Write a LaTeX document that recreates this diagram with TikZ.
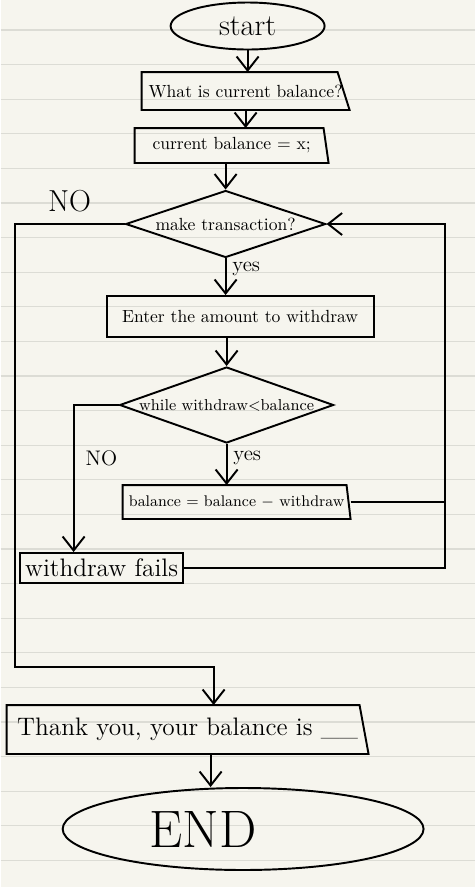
\documentclass[tikz,border=0pt]{standalone}
\usepackage{tikz}
\usetikzlibrary{shapes.geometric}
\usetikzlibrary{arrows.meta}
\definecolor{paper}{HTML}{F6F5EE}
\definecolor{ruling}{HTML}{DCDCD5}

\begin{document}
\begin{tikzpicture}[x=0.02cm, y=-0.02cm, line width=1.1pt,
  flow/.style={-{Straight Barb[length=0.28cm,width=0.44cm]}},
  term/.style={draw, ellipse, inner sep=0pt},
  proc/.style={draw, rectangle, inner sep=0pt},
  io/.style={rectangle, inner sep=0pt},
  test/.style={draw, diamond, inner sep=0pt},
  rule/.style={ruling, line width=0.7pt}]
  %
  % PAPER
  \fill[paper] (0,0) rectangle (474,887);
  \foreach \k in {0,...,24}
    \draw[rule] (0,{30+34.6*\k}) -- (474,{30+34.6*\k});
  %
  % BOXES
  \node[term, minimum width=3.08cm, minimum height=0.94cm, font=\LARGE] (start) at (247,26) {start};
  \node[io, minimum width=4.12cm, minimum height=0.72cm] (ask) at (245,91) {What is current balance?};
  \node[io, minimum width=3.84cm, minimum height=0.66cm] (cur) at (231,145.5) {current balance = x;};
  \node[test, aspect=3, minimum width=4cm, minimum height=1.34cm] (trans) at (225,224) {make transaction?};
  \node[proc, minimum width=5.34cm, minimum height=0.82cm] (amount) at (239.5,316.5) {Enter the amount to withdraw};
  \node[test, aspect=2.8, minimum width=4.28cm, minimum height=1.52cm, font=\fontsize{9}{11}\selectfont] (check) at (226,405) {while withdraw$<$balance};
  \node[io, minimum width=4.52cm, minimum height=0.64cm, font=\fontsize{8.8}{11}\selectfont] (update) at (236,502) {balance = balance $-$ withdraw};
  \node[proc, minimum width=3.26cm, minimum height=0.6cm, font=\Large] (fails) at (101,568) {withdraw fails};
  \node[io, minimum width=7.2cm, minimum height=0.94cm, font=\Large] (thanks) at (187,729.5) {Thank you, your balance is \_\_};
  \node[term, minimum width=7.22cm, minimum height=1.64cm, font=\fontsize{30}{32}\selectfont] (finish) at (242.5,829) {END\hspace*{1.6cm}};
  %
  % slanted right sides
  \draw (ask.south west) |- ([xshift=-0.24cm]ask.north east) -- (ask.south east) -- cycle;
  \draw (cur.south west) |- ([xshift=-0.1cm]cur.north east) -- (cur.south east) -- cycle;
  \draw (update.south west) |- ([xshift=-0.08cm]update.north east) -- (update.south east) -- cycle;
  \draw (thanks.south west) |- ([xshift=-0.18cm]thanks.north east) -- (thanks.south east) -- cycle;
  %
  % MAIN FLOW
  \draw[flow] (start.south) -- (start.south |- ask.north);
  \draw[flow] (ask.south) -- (ask.south |- cur.north);
  \draw[flow] (cur.south -| trans.north) -- (trans.north);
  \draw[flow] (trans.south) -- node[pos=0.3, right, font=\large] {yes} (trans.south |- amount.north);
  \draw[flow] (check.north |- amount.south) -- (check.north);
  \draw[flow] (check.south) -- node[pos=0.35, right, font=\large] {yes} (check.south |- update.north);
  \draw[flow] ([xshift=0.46cm]thanks.south) -- ([xshift=0.46cm]thanks.south |- finish.north);
  %
  % NO BRANCHES
  \coordinate (noL) at (14,667);
  \draw[flow] (trans.west) -| node[pos=0.25, above=3pt, font=\LARGE] {NO} (noL) -| ([xshift=0.52cm]thanks.north);
  \draw[flow] (check.west) -| node[pos=0.68, right=3pt, font=\large] {NO} ([xshift=-0.56cm]fails.north);
  %
  % BACK TO THE TOP
  \coordinate (back) at (444,0);
  \draw (update.east) -- (update.east -| back);
  \draw[flow] (fails.east) -| (back |- trans.east) -- (trans.east);
  %
\end{tikzpicture}
\end{document}
